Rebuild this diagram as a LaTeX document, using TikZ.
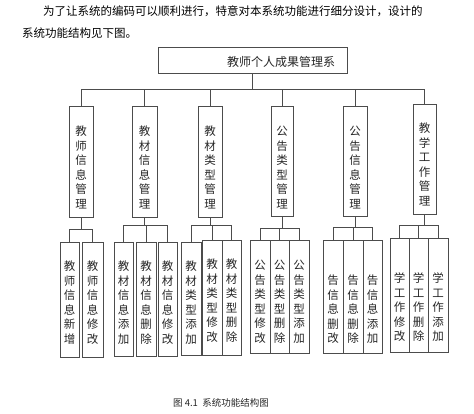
\documentclass[tikz,border=0pt]{standalone}
\usepackage{fontspec}
\setmainfont{Noto Sans CJK SC}
\begin{document}
\begin{tikzpicture}[x=1pt,y=-1pt,
  box/.style={draw=black!70,line width=0.8pt,inner sep=0pt,fill=white},
  vtext/.style={anchor=north,inner sep=0pt,align=center,text=black!85,font=\fontsize{11.5}{14.5}\selectfont},
  link/.style={draw=black!70,line width=0.8pt}]
\useasboundingbox (0,0) rectangle (474,414);
\newcommand\bx[5]{\node[box,minimum width={#4pt-#2pt},minimum height={#5pt-#3pt}] (#1) at ({(#2+#4)/2},{(#3+#5)/2}) {};}
% paragraph
\node[anchor=west,inner sep=0pt,font=\fontsize{11.5}{14}\selectfont] (p1) at (43,11) {为了让系统的编码可以顺利进行，特意对本系统功能进行细分设计，设计的};
\node[anchor=west,inner sep=0pt,font=\fontsize{11.5}{14}\selectfont] (p2) at (22,33) {系统功能结构见下图。};
% root
\bx{root}{158}{47}{347}{73}
\node[anchor=west,inner sep=0pt,font=\fontsize{12}{14}\selectfont,text=black!85] (roott) at (227,62) {教师个人成果管理系};
% mid boxes
\bx{b1}{69}{106}{93}{217}
\bx{b2}{132}{106}{157}{217}
\bx{b3}{198}{106}{222}{217}
\bx{b4}{271}{106}{293}{216}
\bx{b5}{343}{106}{367}{216}
\bx{b6}{413}{104}{436}{214}
\node[vtext] (t1) at (b1.north |- 0,126) {教\\师\\信\\息\\管\\理};
\node[vtext] (t2) at (b2.north |- 0,126) {教\\材\\信\\息\\管\\理};
\node[vtext] (t3) at (b3.north |- 0,126) {教\\材\\类\\型\\管\\理};
\node[vtext] (t4) at (b4.north |- 0,126) {公\\告\\类\\型\\管\\理};
\node[vtext] (t5) at (b5.north |- 0,126) {公\\告\\信\\息\\管\\理};
\node[vtext] (t6) at (b6.north |- 0,123) {教\\学\\工\\作\\管\\理};
% bus
\coordinate (bus) at (0,89);
\draw[link] (root.south) -- (root.south |- bus);
\draw[link] (b1.north |- bus) -- (b6.north |- bus);
\foreach \b in {b1,b2,b3,b4,b5,b6} \draw[link] (\b.north) -- (\b.north |- bus);
% leaves
\bx{l11}{60}{242}{79}{357}
\bx{l12}{82}{242}{103}{357}
\bx{l21}{114}{242}{133}{356}
\bx{l22}{136}{242}{156}{356}
\bx{l23}{158}{242}{177}{356}
\bx{l31}{181}{242}{201}{355}
\bx{l32}{202}{240}{222}{355}
\bx{l33}{222}{240}{241}{355}
\bx{l41}{250}{240}{270}{353}
\bx{l42}{270}{240}{289}{353}
\bx{l43}{289}{240}{309}{353}
\bx{l51}{323}{240}{343}{353}
\bx{l52}{343}{240}{363}{353}
\bx{l53}{363}{240}{382}{353}
\bx{l61}{390}{238}{409}{352}
\bx{l62}{409}{238}{428}{352}
\bx{l63}{428}{238}{448}{352}
\node[vtext] (s11) at (l11.north |- 0,261) {教\\师\\信\\息\\新\\增};
\node[vtext] (s12) at (l12.north |- 0,261) {教\\师\\信\\息\\修\\改};
\node[vtext] (s21) at (l21.north |- 0,261) {教\\材\\信\\息\\添\\加};
\node[vtext] (s22) at (l22.north |- 0,261) {教\\材\\信\\息\\删\\除};
\node[vtext] (s23) at (l23.north |- 0,261) {教\\材\\信\\息\\修\\改};
\node[vtext] (s31) at (l31.north |- 0,261) {教\\材\\类\\型\\添\\加};
\node[vtext] (s32) at (l32.north |- 0,259) {教\\材\\类\\型\\修\\改};
\node[vtext] (s33) at (l33.north |- 0,259) {教\\材\\类\\型\\删\\除};
\node[vtext] (s41) at (l41.north |- 0,260) {公\\告\\类\\型\\修\\改};
\node[vtext] (s42) at (l42.north |- 0,260) {公\\告\\类\\型\\删\\除};
\node[vtext] (s43) at (l43.north |- 0,260) {公\\告\\类\\型\\添\\加};
\node[vtext] (s51) at (l51.north |- 0,275) {告\\信\\息\\删\\改};
\node[vtext] (s52) at (l52.north |- 0,275) {告\\信\\息\\删\\除};
\node[vtext] (s53) at (l53.north |- 0,275) {告\\信\\息\\添\\加};
\node[vtext] (s61) at (l61.north |- 0,273) {学\\工\\作\\修\\改};
\node[vtext] (s62) at (l62.north |- 0,273) {学\\工\\作\\删\\除};
\node[vtext] (s63) at (l63.north |- 0,273) {学\\工\\作\\添\\加};
% group connectors
\coordinate (g1) at (0,229);
\coordinate (g2) at (0,225);
\coordinate (g3) at (0,225);
\coordinate (g4) at (0,228);
\coordinate (g5) at (0,227);
\coordinate (g6) at (0,225);
\draw[link] (b1.south) -- (b1.south |- g1);
\draw[link] (l11.north) |- (l12.north |- g1) -- (l12.north);
\draw[link] (b2.south) -- (b2.south |- g2);
\draw[link] (l21.north) |- (l23.north |- g2) -- (l23.north);
\draw[link] (l22.north) -- (l22.north |- g2);
\draw[link] (b3.south) -- (b3.south |- g3);
\draw[link] (l31.north) |- (l33.north |- g3) -- (l33.north);
\draw[link] (l32.north) -- (l32.north |- g3);
\draw[link] (b4.south) -- (b4.south |- g4);
\draw[link] (l41.north) |- (l43.north |- g4) -- (l43.north);
\draw[link] (l42.north) -- (l42.north |- g4);
\draw[link] (b5.south) -- (b5.south |- g5);
\draw[link] (l51.north) |- (l53.north |- g5) -- (l53.north);
\draw[link] (l52.north) -- (l52.north |- g5);
\draw[link] (b6.south) -- (b6.south |- g6);
\draw[link] (l61.north) |- (l63.north |- g6) -- (l63.north);
\draw[link] (l62.north) -- (l62.north |- g6);
% caption
\node[anchor=west,inner sep=0pt,font=\fontsize{9.5}{12}\selectfont,text=black!85] (cap) at (173,403) {图 4.1\ \ 系统功能结构图};
\end{tikzpicture}
\end{document}
